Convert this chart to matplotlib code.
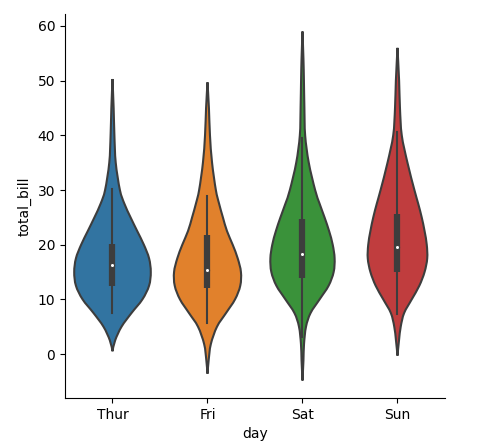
import numpy as np
import matplotlib.pyplot as plt
from matplotlib.path import Path
from matplotlib.patches import PathPatch

days = ["Thur", "Fri", "Sat", "Sun"]
colors = ["#3274a1", "#e1812c", "#3a923a", "#c03d3e"]

# violin outlines: bill level and half width (category units)
thur_y = [0.5, 2.5, 5, 7.5, 10, 12.5, 15, 17.5, 20, 22.5, 25, 27.5, 30, 35, 40, 45, 50.3]
thur_w = [0, 0.028, 0.095, 0.2, 0.315, 0.385, 0.403, 0.385, 0.33, 0.26, 0.19, 0.125, 0.078, 0.034, 0.02, 0.012, 0]
fri_y = [-3.6, -1.2, 1.8, 5, 7.5, 10, 12.5, 15, 17.5, 20, 22.5, 25, 27.5, 30, 35, 40, 45, 49.7]
fri_w = [0, 0.012, 0.035, 0.1, 0.195, 0.29, 0.345, 0.352, 0.318, 0.265, 0.205, 0.162, 0.122, 0.088, 0.048, 0.026, 0.015, 0]
sat_y = [-4.85, -1.2, 1.8, 5, 7.5, 10, 12.5, 15, 17.5, 20, 22.5, 25, 27.5, 30, 35, 40, 45, 50, 54, 59]
sat_w = [0, 0.01, 0.016, 0.037, 0.085, 0.18, 0.275, 0.328, 0.338, 0.318, 0.28, 0.232, 0.18, 0.133, 0.066, 0.028, 0.02, 0.015, 0.01, 0]
sun_y = [-0.3, 2.5, 5, 7.5, 10, 12.5, 15, 17.5, 20, 22.5, 25, 27.5, 30, 35, 40, 45, 50, 56]
sun_w = [0, 0.016, 0.034, 0.07, 0.15, 0.23, 0.285, 0.313, 0.308, 0.285, 0.255, 0.218, 0.178, 0.105, 0.045, 0.026, 0.017, 0]

# inner box: whiskers, quartiles, median
whisk_lo = [7.51, 5.75, 3.07, 7.25]
q1 = [12.44, 12.10, 13.91, 14.99]
median = [16.20, 15.38, 18.24, 19.63]
q3 = [20.16, 21.75, 24.74, 25.60]
whisk_hi = [30.1, 28.97, 39.6, 40.6]

outlines = [(thur_y, thur_w), (fri_y, fri_w), (sat_y, sat_w), (sun_y, sun_w)]
gray = "#3d3d3d"


def smooth_path(pts):
    # catmull-rom through the points, as cubic bezier segments
    pts = np.asarray(pts, float)
    p = np.vstack([pts[0], pts, pts[-1]])
    verts = [pts[0]]
    codes = [Path.MOVETO]
    for i in range(1, len(p) - 2):
        c1 = p[i] + (p[i + 1] - p[i - 1]) / 6
        c2 = p[i + 1] - (p[i + 2] - p[i]) / 6
        verts += [c1, c2, p[i + 1]]
        codes += [Path.CURVE4] * 3
    return verts, codes


fig = plt.figure(figsize=(4.79, 4.44), dpi=100)
ax = fig.add_axes([0.1357, 0.1036, 0.7933, 0.8649])

for i, (ys, ws) in enumerate(outlines):
    ys = np.array(ys)
    ws = np.array(ws)
    right = np.column_stack([i + ws, ys])
    left = np.column_stack([i - ws, ys])[::-1]
    v1, c1 = smooth_path(right)
    v2, c2 = smooth_path(left)
    c2[0] = Path.LINETO
    verts = v1 + v2 + [v1[0]]
    codes = c1 + c2 + [Path.CLOSEPOLY]
    patch = PathPatch(Path(verts, codes), facecolor=colors[i], edgecolor=gray,
                      linewidth=1.5, zorder=1)
    ax.add_patch(patch)

    ax.plot([i, i], [whisk_lo[i], whisk_hi[i]], color=gray, linewidth=1.5, zorder=2)
    ax.plot([i, i], [q1[i], q3[i]], color=gray, linewidth=4.5, solid_capstyle="butt", zorder=2)
    ax.scatter(i, median[i], s=9, color="white", edgecolor=gray, linewidth=0.8, zorder=3)

ymin = min(min(o[0]) for o in outlines)
ymax = max(max(o[0]) for o in outlines)
pad = (ymax - ymin) * 0.05
ax.set_ylim(ymin - pad, ymax + pad)
ax.set_xlim(-0.5, len(days) - 0.5)
ax.set_xticks(range(len(days)))
ax.set_xticklabels(days)
ax.set_yticks([0, 10, 20, 30, 40, 50, 60])
ax.set_xlabel("day")
ax.set_ylabel("total_bill")
ax.spines["top"].set_visible(False)
ax.spines["right"].set_visible(False)

fig.savefig("out.png", dpi=100)
